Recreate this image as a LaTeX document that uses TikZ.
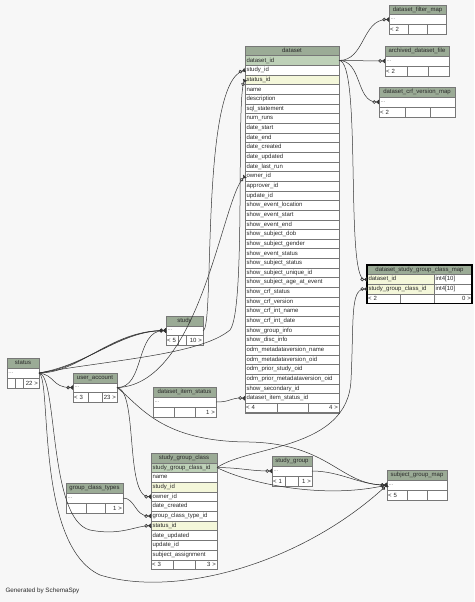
\documentclass[tikz,border=0pt]{standalone}
\usepackage{fontspec}
\setmainfont{Liberation Sans}
\usetikzlibrary{arrows.meta}
\definecolor{bggray}{HTML}{F7F7F7}
\definecolor{headgreen}{HTML}{9BAB96}
\definecolor{pkgreen}{HTML}{BED1B8}
\definecolor{ixyellow}{HTML}{F4F7DA}
\definecolor{gridgray}{HTML}{777777}
\definecolor{linegray}{HTML}{333333}
\definecolor{txtgray}{HTML}{2A2A2A}

\begin{document}
\begin{tikzpicture}[x=1pt,y=-1pt,
  every node/.style={font=\fontsize{6}{6.6}\selectfont, text=txtgray, anchor=north west,
    inner ysep=0pt, inner xsep=1.5pt, outer sep=0pt},
  head/.style={draw=gridgray, fill=headgreen, minimum width=#1},
  row/.style={draw=gridgray, fill=white, text width=#1, align=left},
  pk/.style={fill=pkgreen}, ix/.style={fill=ixyellow}, pl/.style={},
  dots/.style={text=gray},
  fl/.style={draw=gridgray, fill=white, inner xsep=1pt, text width=#1, align=left},
  fr/.style={draw=gridgray, fill=white, inner xsep=1pt, text width=#1, align=right},
  frame/.style={draw=gridgray, line width=0.7pt},
  fk/.style={draw=linegray, line width=0.5pt,
    -{Circle[open, length=3.6pt, width=3.6pt, line width=0.6pt] Triangle[reversed, length=3pt, width=4.6pt]}}]

\fill[bggray] (0,0) rectangle (474,602);
\useasboundingbox (0,0) rectangle (474,602);

% dataset
\begin{scope}[every node/.append style={minimum height=9.65pt}]
  \node[head=94pt] (ds) at (245,46) {dataset};
  \foreach \f/\s [count=\i] in {dataset\_id/pk, study\_id/pl, status\_id/ix, name/pl,
      description/pl, sql\_statement/pl, num\_runs/pl, date\_start/pl, date\_end/pl,
      date\_created/pl, date\_updated/pl, date\_last\_run/pl, owner\_id/pl, approver\_id/pl,
      update\_id/pl, show\_event\_location/pl, show\_event\_start/pl, show\_event\_end/pl,
      show\_subject\_dob/pl, show\_subject\_gender/pl, show\_event\_status/pl,
      show\_subject\_status/pl, show\_subject\_unique\_id/pl, show\_subject\_age\_at\_event/pl,
      show\_crf\_status/pl, show\_crf\_version/pl, show\_crf\_int\_name/pl,
      show\_crf\_int\_date/pl, show\_group\_info/pl, show\_disc\_info/pl,
      odm\_metadataversion\_name/pl, odm\_metadataversion\_oid/pl, odm\_prior\_study\_oid/pl,
      odm\_prior\_metadataversion\_oid/pl, show\_secondary\_id/pl, dataset\_item\_status\_id/pl}
    \node[row=91pt, \s] (ds-\i) at (245,{46+\i*9.65}) {\f};
  \node[fl=30pt] (ds-fl) at (245,403.1) {< 4};
  \node[fl=29pt] (ds-fm) at (277,403.1) {};
  \node[fr=29pt] (ds-fr) at (308,403.1) {4 >};
  \draw[frame] (ds.north west) rectangle (ds-fr.south east);
\end{scope}

% dataset_filter_map
\begin{scope}[every node/.append style={minimum height=9.7pt}]
  \node[head=57pt] (dfm) at (389,5) {dataset\_filter\_map};
  \node[row=54pt, dots] (dfm-1) at (389,14.7) {...};
  \node[fl=17pt] (dfm-fl) at (389,24.4) {< 2};
  \node[fl=17pt] (dfm-fm) at (408,24.4) {};
  \node[fr=17pt] (dfm-fr) at (427,24.4) {};
  \draw[frame] (dfm.north west) rectangle (dfm-fr.south east);
\end{scope}

% archived_dataset_file
\begin{scope}[every node/.append style={minimum height=10pt}]
  \node[head=64pt] (adf) at (385,46) {archived\_dataset\_file};
  \node[row=61pt, dots] (adf-1) at (385,56) {...};
  \node[fl=20pt] (adf-fl) at (385,66) {< 2};
  \node[fl=19pt] (adf-fm) at (407,66) {};
  \node[fr=19pt] (adf-fr) at (428,66) {};
  \draw[frame] (adf.north west) rectangle (adf-fr.south east);
\end{scope}

% dataset_crf_version_map
\begin{scope}[every node/.append style={minimum height=10pt}]
  \node[head=76pt] (dcv) at (379,87) {dataset\_crf\_version\_map};
  \node[row=73pt, dots] (dcv-1) at (379,97) {...};
  \node[fl=24pt] (dcv-fl) at (379,107) {< 2};
  \node[fl=23pt] (dcv-fm) at (405,107) {};
  \node[fr=23pt] (dcv-fr) at (430,107) {};
  \draw[frame] (dcv.north west) rectangle (dcv-fr.south east);
\end{scope}

% dataset_study_group_class_map
\begin{scope}[every node/.append style={minimum height=9.6pt}]
  \node[head=105pt] (dsg) at (367,265) {dataset\_study\_group\_class\_map};
  \node[row=64pt, ix] (dsg-1) at (367,274.6) {dataset\_id};
  \node[row=35pt] (dsg-1t) at (434,274.6) {int4[10]};
  \node[row=64pt, ix] (dsg-2) at (367,284.2) {study\_group\_class\_id};
  \node[row=35pt] (dsg-2t) at (434,284.2) {int4[10]};
  \node[fl=31pt] (dsg-fl) at (367,293.8) {< 2};
  \node[fl=32pt] (dsg-fm) at (400,293.8) {};
  \node[fr=36pt] (dsg-fr) at (434,293.8) {0 >};
  \draw[black, line width=1.4pt] (dsg.north west) rectangle (dsg-fr.south east);
\end{scope}

% study
\begin{scope}[every node/.append style={minimum height=9.7pt}]
  \node[head=37pt] (sy) at (166,316) {study};
  \node[row=34pt, dots] (sy-1) at (166,325.7) {...};
  \node[fl=10pt] (sy-fl) at (166,335.4) {< 5};
  \node[fl=6pt] (sy-fm) at (178,335.4) {};
  \node[fr=15pt] (sy-fr) at (186,335.4) {10 >};
  \draw[frame] (sy.north west) rectangle (sy-fr.south east);
\end{scope}

% status
\begin{scope}[every node/.append style={minimum height=10pt}]
  \node[head=32pt] (st) at (7,358) {status};
  \node[row=29pt, dots] (st-1) at (7,368) {...};
  \node[fl=6pt] (st-fl) at (7,378) {};
  \node[fl=6pt] (st-fm) at (15,378) {};
  \node[fr=14pt] (st-fr) at (23,378) {22 >};
  \draw[frame] (st.north west) rectangle (st-fr.south east);
\end{scope}

% user_account
\begin{scope}[every node/.append style={minimum height=9.7pt}]
  \node[head=44pt] (ua) at (73,373) {user\_account};
  \node[row=41pt, dots] (ua-1) at (73,382.7) {...};
  \node[fl=13pt] (ua-fl) at (73,392.4) {< 3};
  \node[fl=12pt] (ua-fm) at (88,392.4) {};
  \node[fr=13pt] (ua-fr) at (102,392.4) {23 >};
  \draw[frame] (ua.north west) rectangle (ua-fr.south east);
\end{scope}

% dataset_item_status
\begin{scope}[every node/.append style={minimum height=10pt}]
  \node[head=63pt] (dis) at (153,387) {dataset\_item\_status};
  \node[row=60pt, dots] (dis-1) at (153,397) {...};
  \node[fl=19pt] (dis-fl) at (153,407) {};
  \node[fl=19pt] (dis-fm) at (174,407) {};
  \node[fr=19pt] (dis-fr) at (195,407) {1 >};
  \draw[frame] (dis.north west) rectangle (dis-fr.south east);
\end{scope}

% study_group_class
\begin{scope}[every node/.append style={minimum height=9.7pt}]
  \node[head=66pt] (sgc) at (151,453) {study\_group\_class};
  \foreach \f/\s [count=\i] in {study\_group\_class\_id/pk, name/pl, study\_id/ix, owner\_id/pl,
      date\_created/pl, group\_class\_type\_id/pl, status\_id/ix, date\_updated/pl,
      update\_id/pl, subject\_assignment/pl}
    \node[row=63pt, \s] (sgc-\i) at (151,{453+\i*9.7}) {\f};
  \node[fl=20pt] (sgc-fl) at (151,559.7) {< 3};
  \node[fl=20pt] (sgc-fm) at (173,559.7) {};
  \node[fr=20pt] (sgc-fr) at (195,559.7) {3 >};
  \draw[frame] (sgc.north west) rectangle (sgc-fr.south east);
\end{scope}

% group_class_types
\begin{scope}[every node/.append style={minimum height=10pt}]
  \node[head=57pt] (gct) at (66,483) {group\_class\_types};
  \node[row=54pt, dots] (gct-1) at (66,493) {...};
  \node[fl=18pt] (gct-fl) at (66,503) {};
  \node[fl=17pt] (gct-fm) at (86,503) {};
  \node[fr=16pt] (gct-fr) at (105,503) {1 >};
  \draw[frame] (gct.north west) rectangle (gct-fr.south east);
\end{scope}

% study_group
\begin{scope}[every node/.append style={minimum height=10pt}]
  \node[head=40pt] (sg) at (272,456) {study\_group};
  \node[row=37pt, dots] (sg-1) at (272,466) {...};
  \node[fl=11pt] (sg-fl) at (272,476) {< 1};
  \node[fl=11pt] (sg-fm) at (285,476) {};
  \node[fr=12pt] (sg-fr) at (298,476) {1 >};
  \draw[frame] (sg.north west) rectangle (sg-fr.south east);
\end{scope}

% subject_group_map
\begin{scope}[every node/.append style={minimum height=10pt}]
  \node[head=60pt] (sgm) at (387,470) {subject\_group\_map};
  \node[row=57pt, dots] (sgm-1) at (387,480) {...};
  \node[fl=18pt] (sgm-fl) at (387,490) {< 5};
  \node[fl=18pt] (sgm-fm) at (407,490) {};
  \node[fr=18pt] (sgm-fr) at (427,490) {};
  \draw[frame] (sgm.north west) rectangle (sgm-fr.south east);
\end{scope}

\node[font=\fontsize{6.3}{7}\selectfont] (gen) at (4,588) {Generated by SchemaSpy};

% relationships, parent to child
\draw[fk] (ds-1.east) .. controls (365,60.5) and (362,19.5) .. (dfm-1.west);
\draw[fk] (ds-1.east) -- (adf-1.west);
\draw[fk] (ds-1.east) .. controls (362,60.5) and (356,102) .. (dcv-1.west);
\draw[fk] (ds-1.east) .. controls (362,60.5) and (345,279.4) .. (dsg-1.west);
\draw[fk] (sgc-1.east) .. controls (250,445) and (348,450) .. (351,380)
  .. controls (354,320) and (350,289) .. (dsg-2.west);
\draw[fk] (sy-1.east) .. controls (215,330.5) and (200,85) .. (ds-2.west);
\draw[fk] (st-1.east) .. controls (110,360) and (200,355) .. (230,330)
  .. controls (246,310) and (236,100) .. (ds-3.west);
\draw[fk] (ua-1.east) .. controls (200,385) and (222,200) .. (ds-13.west);
\draw[fk] (dis-1.east) .. controls (232,402) and (230,397.4) .. (ds-36.west);
\draw[fk] (st-1.east) .. controls (80,373) and (110,330.5) .. (sy-1.west);
\draw[fk] (st-1.east) .. controls (85,368) and (115,331) .. (sy-1.west);
\draw[fk] (st-1.east) .. controls (90,364) and (120,331) .. (sy-1.west);
\draw[fk] (ua-1.east) .. controls (145,388) and (135,330.5) .. (sy-1.west);
\draw[fk] (st-1.east) .. controls (55,375) and (52,387.5) .. (ua-1.west);
\draw[fk] (ua-1.east) .. controls (138,390) and (125,496.7) .. (sgc-4.west);
\draw[fk] (gct-1.east) .. controls (135,498) and (135,516) .. (sgc-6.west);
\draw[fk] (st-1.east) .. controls (58,375) and (48,520) .. (90,530)
  .. controls (120,536) and (135,526) .. (sgc-7.west);
\draw[fk] (sgc-1.east) .. controls (240,467.6) and (250,471) .. (sg-1.west);
\draw[fk] (sgc-1.east) .. controls (245,482) and (320,500) .. (sgm-1.west);
\draw[fk] (sg-1.east) .. controls (340,471) and (360,485) .. (sgm-1.west);
\draw[fk] (ua-1.east) .. controls (140,405) and (160,442) .. (250,442)
  .. controls (330,444) and (340,485) .. (sgm-1.west);
\draw[fk] (st-1.east) .. controls (52,380) and (35,545) .. (100,575)
  .. controls (175,598) and (300,565) .. (sgm-1.west);
\end{tikzpicture}
\end{document}
